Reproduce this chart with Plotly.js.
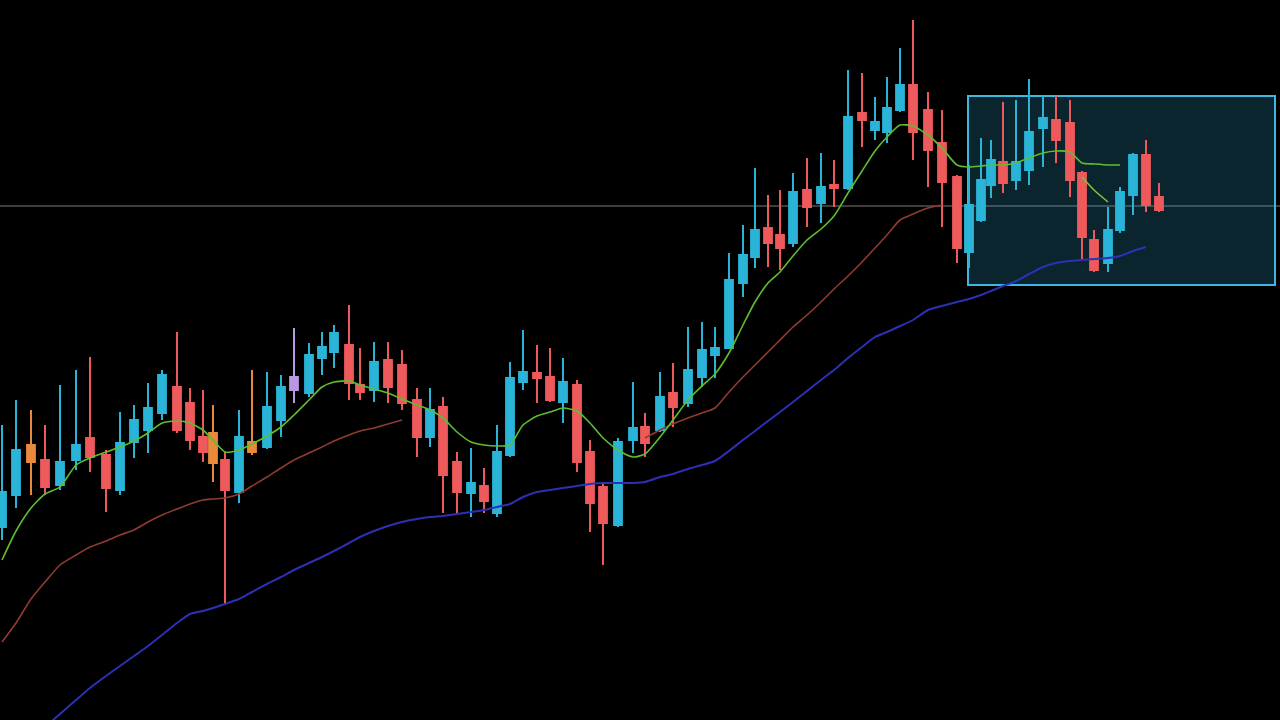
<!DOCTYPE html>
<html><head><meta charset="utf-8">
<script src="https://cdn.plot.ly/plotly-3.0.1.min.js"></script>
<style>html,body{margin:0;padding:0;background:#000;}#chart{width:1280px;height:720px;}</style>
</head><body><div id="chart"></div>
<script>
// ---- Candle data (one entry per session) ----
// session time stamps (minutes) (slightly irregular)
const barTime = [2,16,31,45,60,76,90,106,120,134,
  148,162,177,190,203,213,225,239,252,267,
  281,294,309,322,334,349,360,374,388,402,
  417,430,443,457,471,484,497,510,523,537,
  550,563,577,590,603,618,633,645,660,673,
  688,702,715,729,743,755,768,780,793,807,
  821,834,848,862,875,887,900,913,928,942,
  957,969,981,991,1003,1016,1029,1043,1056,1070,
  1082,1094,1108,1120,1133,1146,1159];
const openP = [19.3,22.5,27.5,26.0,23.5,26.0,28.2,26.5,23.0,27.8,
  29.0,30.7,33.3,31.7,28.3,28.7,26.0,22.8,27.8,27.3,
  30.0,33.0,32.7,36.2,36.8,37.5,33.5,33.0,36.0,35.5,
  32.0,28.3,31.3,25.8,22.7,23.4,20.7,26.5,33.8,34.7,
  34.3,31.8,33.5,26.8,23.3,19.5,28.0,29.3,29.0,32.7,
  31.7,34.3,36.5,37.2,43.7,46.3,49.2,48.5,47.7,53.0,
  51.7,53.5,53.2,60.7,59.0,58.8,61.0,63.5,61.0,57.7,
  54.3,46.8,50.0,53.5,55.8,54.0,55.0,59.2,60.0,59.7,
  54.7,48.0,45.7,49.0,52.5,56.5,52.3];
const highP = [29.5,32.0,31.0,29.5,33.5,35.0,36.3,27.0,30.8,31.5,
  33.7,35.0,38.8,33.2,33.0,31.5,26.8,31.0,35.0,34.8,
  34.5,39.2,37.7,38.8,39.5,41.5,37.2,37.8,37.8,37.0,
  33.2,33.2,32.3,26.8,27.2,25.2,29.5,35.8,39.0,37.5,
  37.2,36.2,34.0,28.0,23.7,28.2,33.8,30.7,34.8,35.7,
  39.3,39.8,39.3,46.7,49.5,55.2,52.5,53.0,54.7,56.2,
  56.7,56.0,65.0,64.7,62.3,64.3,67.2,70.0,62.8,61.0,
  54.5,55.5,58.2,58.0,61.8,62.0,64.1,62.5,62.5,62.0,
  54.9,49.0,51.3,53.3,56.7,58.0,53.7];
const lowP = [18.0,21.2,22.5,22.5,23.0,25.0,24.8,20.8,22.5,26.2,
  26.7,30.0,28.7,27.0,25.8,23.8,11.5,21.7,26.5,27.1,
  28.3,31.7,32.3,34.5,35.2,32.0,32.0,31.8,31.7,31.0,
  26.3,27.3,20.7,20.7,20.3,20.7,20.3,26.3,33.0,31.7,
  31.8,29.7,24.8,18.8,15.5,19.3,26.7,26.3,28.8,29.3,
  31.3,33.3,34.2,37.2,42.3,45.2,45.3,45.0,47.3,49.3,
  49.7,51.3,53.0,57.3,58.0,57.7,60.8,56.0,53.3,49.3,
  45.7,45.2,49.8,52.2,52.7,53.0,53.5,55.3,55.7,52.3,
  46.0,44.8,44.8,48.7,50.5,50.8,50.8];
const closeP = [22.8,27.0,25.8,23.3,25.8,27.5,26.3,23.2,27.7,30.0,
  31.2,34.5,29.0,28.0,26.8,25.7,23.0,28.3,26.8,31.3,
  33.3,34.3,36.5,37.3,38.7,33.7,32.8,35.8,33.3,31.7,
  28.3,31.0,24.5,22.8,23.7,21.9,26.8,34.2,34.8,34.2,
  32.0,33.8,25.8,21.7,19.7,27.8,29.2,27.7,32.3,31.3,
  35.0,37.0,37.2,44.0,46.5,49.0,47.7,47.2,52.8,51.3,
  53.3,53.2,60.3,60.0,59.8,61.2,63.5,58.8,57.0,53.8,
  47.2,51.5,54.0,56.0,53.7,55.8,58.8,60.2,58.0,54.0,
  48.3,45.0,49.0,52.8,56.5,51.5,51.0];
// highlighted candles (indices)
const orangeCandles = [2,15,18];
const purpleCandles = [21];

// ---- Moving averages (one value per session, null = not drawn) ----
const n = null;
const maFast = [16.0,18.9,21.2,22.6,23.3,25.5,26.2,26.8,27.3,27.9,
  28.7,29.7,29.9,29.7,29.0,28.0,26.8,27.0,27.6,28.4,
  29.3,30.5,32.0,33.3,33.8,33.9,33.5,33.1,32.7,32.1,
  31.5,31.0,30.2,28.8,27.8,27.5,27.4,27.5,29.5,30.4,
  30.8,31.2,30.9,29.7,28.2,27.0,26.3,26.6,28.3,30.0,
  32.0,33.4,34.6,36.7,39.5,41.8,43.7,44.8,46.4,48.0,
  49.1,50.4,52.7,54.9,56.9,58.3,59.5,59.4,58.5,57.2,
  55.5,55.3,55.4,55.5,55.5,55.7,56.2,56.7,56.9,56.8,
  55.7,55.6,55.5,55.5,n,n,n];
const maFastAlt = [n,n,n,n,n,n,n,n,n,n, n,n,n,n,n,n,n,n,n,n,
  n,n,n,n,n,n,n,n,n,n, n,n,n,n,n,n,n,n,n,n, n,n,n,n,n,n,n,n,n,n,
  n,n,n,n,n,n,n,n,n,n, n,n,n,n,n,n,n,n,n,n, n,n,n,n,n,n,n,n,n,n,
  54.3,53.0,51.8,n,n,n,n];
const maMid = [7.8,9.7,12.1,13.8,15.5,16.5,17.3,17.9,18.5,19.0,
  19.8,20.5,21.1,21.6,22.0,22.1,22.2,22.6,23.4,24.3,
  25.2,26.0,26.7,27.3,27.9,28.5,28.9,29.2,29.6,30.0,
  n,n,n,n,n,n,n,n,n,n,
  n,n,n,n,n,n,n,28.2,29.0,29.6,
  30.2,30.7,31.2,32.8,34.3,35.5,36.8,38.0,39.3,40.5,
  41.8,43.1,44.4,45.8,47.2,48.5,50.0,50.6,51.2,51.5,
  n,n,n,n,n,n,n,n,n,n,
  n,n,n,n,n,n,n];
const maSlow = [n,n,n,-0.7,0.6,2.0,3.2,4.4,5.4,6.4,
  7.4,8.5,9.7,10.6,10.9,11.2,11.6,12.1,12.8,13.6,
  14.3,15.0,15.7,16.3,16.9,17.7,18.3,18.9,19.4,19.8,
  20.1,20.3,20.4,20.6,20.8,21.0,21.3,21.6,22.3,22.8,
  23.0,23.2,23.4,23.6,23.7,23.7,23.7,23.8,24.3,24.6,
  25.1,25.5,25.9,26.9,28.0,28.9,29.9,30.8,31.8,32.9,
  34.0,35.0,36.2,37.3,38.3,38.8,39.4,40.0,41.0,41.4,
  41.8,42.1,42.5,42.9,43.4,43.9,44.6,45.3,45.7,45.9,
  46.0,46.1,46.2,46.4,46.9,47.3,n];

// ---- Annotation levels ----
const levelPrice = 51.4;
const zoneStart = 968, zoneEnd = 1275, zoneLow = 43.5, zoneHigh = 62.4;

const CYAN = '#2ab4d8', RED = '#ee5a5c', ORANGE = '#e8893c', PURPLE = '#b898e0';
const idx = openP.map((_, i) => i);
const special = new Set([...orangeCandles, ...purpleCandles]);

function pick(list) {
  return {
    x: list.map(i => barTime[i]), open: list.map(i => openP[i]), high: list.map(i => highP[i]),
    low: list.map(i => lowP[i]), close: list.map(i => closeP[i])
  };
}
function candle(list, upCol, downCol) {
  return Object.assign({
    type: 'candlestick', whiskerwidth: 0, hoverinfo: 'skip', showlegend: false,
    increasing: {line: {color: upCol, width: 2}, fillcolor: upCol},
    decreasing: {line: {color: downCol, width: 2}, fillcolor: downCol}
  }, pick(list));
}
function line(y, color, w) {
  return {type: 'scatter', mode: 'lines', x: barTime, y: y, connectgaps: false,
    line: {color: color, width: w, shape: 'spline', smoothing: 0.6}, hoverinfo: 'skip', showlegend: false};
}

const traces = [
  line(maSlow, '#2c30b4', 2),
  line(maMid, '#8f3b30', 1.6),
  line(maFast, '#5cbf2e', 1.6),
  line(maFastAlt, '#7cc23a', 1.6),
  candle(idx.filter(i => !special.has(i)), CYAN, RED),
  candle(orangeCandles, ORANGE, ORANGE),
  candle(purpleCandles, PURPLE, PURPLE)
];

const layout = {
  width: 1280, height: 720,
  margin: {l: 0, r: 0, t: 0, b: 0},
  paper_bgcolor: '#000', plot_bgcolor: '#000',
  showlegend: false, dragmode: false,
  boxgap: 0.22, boxgroupgap: 0,
  xaxis: {range: [0, 1280], visible: false, rangeslider: {visible: false}, fixedrange: true},
  yaxis: {range: [0, 72], visible: false, fixedrange: true},
  shapes: [
    {type: 'rect', xref: 'x', yref: 'y', x0: zoneStart, x1: zoneEnd, y0: zoneLow, y1: zoneHigh,
     fillcolor: 'rgba(45,170,210,0.22)', line: {color: '#3db6e0', width: 2}, layer: 'below'},
    {type: 'line', xref: 'paper', yref: 'y', x0: 0, x1: 1, y0: levelPrice, y1: levelPrice,
     line: {color: 'rgba(150,150,150,0.55)', width: 1.5}, layer: 'below'}
  ]
};
Plotly.newPlot('chart', traces, layout, {displayModeBar: false, staticPlot: true});
</script></body></html>
